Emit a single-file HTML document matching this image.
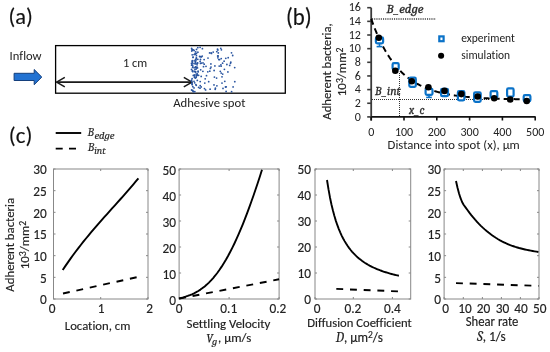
<!DOCTYPE html>
<html><head><meta charset="utf-8"><title>Figure</title>
<style>html,body{margin:0;padding:0;background:#fff;}svg{display:block;filter:blur(0.25px);}text{font-variant-ligatures:none;font-feature-settings:'liga' 0,'clig' 0;font-kerning:normal;}</style></head>
<body><svg width="550" height="352" viewBox="0 0 550 352">
<rect width="550" height="352" fill="#fff"/>
<text x="8.50" y="24.10" font-size="23" font-family="Carlito, 'Liberation Sans', sans-serif" fill="#111" stroke="#111" stroke-width="0.15" textLength="24.30" lengthAdjust="spacingAndGlyphs">(a)</text>
<text x="9.60" y="59.60" font-size="13" font-family="Carlito, 'Liberation Sans', sans-serif" fill="#222" textLength="32.00" lengthAdjust="spacingAndGlyphs">Inflow</text>
<path d="M14.1,73.3 H34.2 V69.5 L41.8,77.1 L34.2,84.7 V80.5 H14.1 Z" fill="#2272d2" stroke="#143f7c" stroke-width="1"/>
<rect x="55.6" y="45.6" width="229.7" height="47.6" fill="none" stroke="#000" stroke-width="1.3"/>
<line x1="56.50" y1="82.10" x2="192.30" y2="82.10" stroke="#1a1a1a" stroke-width="1.6"/>
<polyline points="64.80,77.30 56.60,82.10 64.80,86.90" fill="none" stroke="#1a1a1a" stroke-width="1.5" stroke-linejoin="round" stroke-linejoin="miter"/>
<polyline points="183.80,77.30 192.00,82.10 183.80,86.90" fill="none" stroke="#1a1a1a" stroke-width="1.5" stroke-linejoin="round" stroke-linejoin="miter"/>
<text x="123.00" y="67.30" font-size="13" font-family="Carlito, 'Liberation Sans', sans-serif" fill="#222" textLength="24.30" lengthAdjust="spacingAndGlyphs">1 cm</text>
<g fill="#2a55a0"><circle cx="192.8" cy="66.0" r="0.9"/><circle cx="196.1" cy="69.0" r="0.9"/><circle cx="198.6" cy="87.4" r="0.9"/><circle cx="196.8" cy="75.6" r="0.9"/><circle cx="191.5" cy="81.3" r="0.9"/><circle cx="200.1" cy="61.4" r="0.9"/><circle cx="192.1" cy="49.5" r="0.9"/><circle cx="196.3" cy="85.3" r="0.9"/><circle cx="194.8" cy="91.6" r="0.9"/><circle cx="192.1" cy="83.0" r="0.9"/><circle cx="192.2" cy="50.2" r="0.9"/><circle cx="194.0" cy="87.9" r="0.9"/><circle cx="194.1" cy="54.6" r="0.9"/><circle cx="193.2" cy="49.8" r="0.9"/><circle cx="191.6" cy="80.2" r="0.9"/><circle cx="197.2" cy="63.2" r="0.9"/><circle cx="196.3" cy="76.0" r="0.9"/><circle cx="197.3" cy="80.4" r="0.9"/><circle cx="197.5" cy="67.9" r="0.9"/><circle cx="194.0" cy="81.3" r="0.9"/><circle cx="193.0" cy="63.6" r="0.9"/><circle cx="192.2" cy="84.7" r="0.9"/><circle cx="196.4" cy="55.7" r="0.9"/><circle cx="195.6" cy="66.8" r="0.9"/><circle cx="192.2" cy="61.4" r="0.9"/><circle cx="192.3" cy="60.7" r="0.9"/><circle cx="195.4" cy="62.5" r="0.9"/><circle cx="198.6" cy="75.3" r="0.9"/><circle cx="192.3" cy="71.1" r="0.9"/><circle cx="196.0" cy="59.9" r="0.9"/><circle cx="195.0" cy="69.5" r="0.9"/><circle cx="195.6" cy="71.9" r="0.9"/><circle cx="200.0" cy="88.2" r="0.9"/><circle cx="196.4" cy="57.8" r="0.9"/><circle cx="194.5" cy="71.4" r="0.9"/><circle cx="192.6" cy="70.6" r="0.9"/><circle cx="195.5" cy="72.0" r="0.9"/><circle cx="196.5" cy="49.4" r="0.9"/><circle cx="193.5" cy="91.7" r="0.9"/><circle cx="193.1" cy="91.3" r="0.9"/><circle cx="201.3" cy="63.1" r="0.9"/><circle cx="191.5" cy="63.3" r="0.9"/><circle cx="195.9" cy="84.6" r="0.9"/><circle cx="191.9" cy="83.8" r="0.9"/><circle cx="192.7" cy="90.5" r="0.9"/><circle cx="194.7" cy="77.4" r="0.9"/><circle cx="192.8" cy="86.7" r="0.9"/><circle cx="195.4" cy="78.1" r="0.9"/><circle cx="196.1" cy="74.1" r="0.9"/><circle cx="196.5" cy="53.4" r="0.9"/><circle cx="193.0" cy="57.4" r="0.9"/><circle cx="197.4" cy="75.2" r="0.9"/><circle cx="193.1" cy="57.1" r="0.9"/><circle cx="196.0" cy="63.9" r="0.9"/><circle cx="197.0" cy="67.2" r="0.9"/><circle cx="191.6" cy="90.0" r="0.9"/><circle cx="197.2" cy="73.8" r="0.9"/><circle cx="196.3" cy="58.3" r="0.9"/><circle cx="197.7" cy="63.0" r="0.9"/><circle cx="192.8" cy="71.7" r="0.9"/><circle cx="191.5" cy="69.4" r="0.9"/><circle cx="192.2" cy="54.8" r="0.9"/><circle cx="192.4" cy="62.3" r="0.9"/><circle cx="195.7" cy="51.8" r="0.9"/><circle cx="195.6" cy="61.2" r="0.9"/><circle cx="200.2" cy="81.6" r="0.9"/><circle cx="199.6" cy="56.5" r="0.9"/><circle cx="191.6" cy="48.5" r="0.9"/><circle cx="196.2" cy="77.3" r="0.9"/><circle cx="194.4" cy="77.0" r="0.9"/><circle cx="191.8" cy="51.1" r="0.9"/><circle cx="191.6" cy="65.2" r="0.9"/><circle cx="195.5" cy="59.6" r="0.9"/><circle cx="195.8" cy="67.2" r="0.9"/><circle cx="197.8" cy="47.7" r="0.9"/><circle cx="194.5" cy="75.1" r="0.9"/><circle cx="197.1" cy="64.8" r="0.9"/><circle cx="197.8" cy="59.3" r="0.9"/><circle cx="193.3" cy="75.4" r="0.9"/><circle cx="198.1" cy="71.2" r="0.9"/><circle cx="200.7" cy="69.8" r="0.9"/><circle cx="194.1" cy="50.5" r="0.9"/><circle cx="196.6" cy="67.8" r="0.9"/><circle cx="192.1" cy="78.7" r="0.9"/><circle cx="200.2" cy="85.7" r="0.9"/><circle cx="194.7" cy="82.8" r="0.9"/><circle cx="201.4" cy="56.9" r="0.9"/><circle cx="198.1" cy="71.9" r="0.9"/><circle cx="192.6" cy="67.4" r="0.9"/><circle cx="197.9" cy="52.2" r="0.9"/><circle cx="195.1" cy="53.3" r="0.9"/><circle cx="194.5" cy="75.2" r="0.9"/><circle cx="202.4" cy="48.7" r="0.9"/><circle cx="194.2" cy="60.8" r="0.9"/><circle cx="192.0" cy="64.9" r="0.9"/><circle cx="195.4" cy="54.2" r="0.9"/><circle cx="200.5" cy="56.7" r="0.9"/><circle cx="197.3" cy="74.6" r="0.9"/><circle cx="194.1" cy="67.7" r="0.9"/><circle cx="194.9" cy="63.7" r="0.9"/><circle cx="204.1" cy="59.6" r="0.9"/><circle cx="200.5" cy="63.4" r="0.9"/><circle cx="214.0" cy="84.9" r="0.9"/><circle cx="205.2" cy="78.8" r="0.9"/><circle cx="216.6" cy="78.1" r="0.9"/><circle cx="221.2" cy="73.1" r="0.9"/><circle cx="209.8" cy="71.2" r="0.9"/><circle cx="200.1" cy="47.3" r="0.9"/><circle cx="210.9" cy="63.9" r="0.9"/><circle cx="203.0" cy="62.9" r="0.9"/><circle cx="214.1" cy="70.5" r="0.9"/><circle cx="208.7" cy="81.7" r="0.9"/><circle cx="201.2" cy="86.9" r="0.9"/><circle cx="214.9" cy="65.9" r="0.9"/><circle cx="215.2" cy="89.3" r="0.9"/><circle cx="214.4" cy="77.1" r="0.9"/><circle cx="215.4" cy="88.2" r="0.9"/><circle cx="219.6" cy="59.6" r="0.9"/><circle cx="200.5" cy="59.5" r="0.9"/><circle cx="208.0" cy="58.1" r="0.9"/><circle cx="210.1" cy="89.2" r="0.9"/><circle cx="204.2" cy="64.2" r="0.9"/><circle cx="218.3" cy="52.9" r="0.9"/><circle cx="207.8" cy="71.8" r="0.9"/><circle cx="216.9" cy="85.8" r="0.9"/><circle cx="205.6" cy="89.9" r="0.9"/><circle cx="209.6" cy="52.9" r="0.9"/><circle cx="203.5" cy="66.7" r="0.9"/><circle cx="217.9" cy="50.1" r="0.9"/><circle cx="204.8" cy="83.1" r="0.9"/><circle cx="218.1" cy="56.0" r="0.9"/><circle cx="201.2" cy="76.4" r="0.9"/><circle cx="217.5" cy="49.2" r="0.9"/><circle cx="211.5" cy="53.4" r="0.9"/><circle cx="213.2" cy="52.1" r="0.9"/><circle cx="202.9" cy="71.3" r="0.9"/><circle cx="220.8" cy="48.3" r="0.9"/><circle cx="202.2" cy="56.1" r="0.9"/><circle cx="217.9" cy="57.8" r="0.9"/><circle cx="206.0" cy="66.3" r="0.9"/><circle cx="218.8" cy="59.6" r="0.9"/><circle cx="210.4" cy="68.4" r="0.9"/><circle cx="211.0" cy="67.1" r="0.9"/><circle cx="217.7" cy="56.0" r="0.9"/><circle cx="211.1" cy="52.9" r="0.9"/><circle cx="219.2" cy="66.1" r="0.9"/><circle cx="222.0" cy="76.8" r="0.9"/><circle cx="204.5" cy="88.6" r="0.9"/><circle cx="206.5" cy="75.7" r="0.9"/><circle cx="216.8" cy="51.6" r="0.9"/><circle cx="221.1" cy="66.2" r="0.9"/><circle cx="224.1" cy="61.2" r="0.9"/><circle cx="222.6" cy="63.2" r="0.9"/><circle cx="234.7" cy="67.6" r="0.9"/><circle cx="225.8" cy="58.3" r="0.9"/><circle cx="221.2" cy="58.6" r="0.9"/><circle cx="233.1" cy="86.9" r="0.9"/><circle cx="220.9" cy="64.8" r="0.9"/><circle cx="227.9" cy="71.9" r="0.9"/><circle cx="221.4" cy="49.8" r="0.9"/><circle cx="231.5" cy="52.8" r="0.9"/><circle cx="224.8" cy="81.3" r="0.9"/><circle cx="229.7" cy="65.4" r="0.9"/><circle cx="231.6" cy="91.7" r="0.9"/><circle cx="226.2" cy="86.8" r="0.9"/><circle cx="226.9" cy="64.5" r="0.9"/><circle cx="234.8" cy="81.7" r="0.9"/><circle cx="220.3" cy="71.3" r="0.9"/><circle cx="224.4" cy="69.3" r="0.9"/><circle cx="230.8" cy="62.2" r="0.9"/><circle cx="228.2" cy="57.7" r="0.9"/><circle cx="225.5" cy="87.0" r="0.9"/><circle cx="230.5" cy="63.3" r="0.9"/><circle cx="222.7" cy="74.1" r="0.9"/><circle cx="226.1" cy="91.4" r="0.9"/><circle cx="223.0" cy="88.4" r="0.9"/><circle cx="222.0" cy="83.1" r="0.9"/><circle cx="232.7" cy="55.5" r="0.9"/></g>
<text x="173.20" y="106.80" font-size="12.7" font-family="Carlito, 'Liberation Sans', sans-serif" fill="#222" textLength="72.20" lengthAdjust="spacingAndGlyphs">Adhesive spot</text>
<text x="285.90" y="24.50" font-size="23.5" font-family="Carlito, 'Liberation Sans', sans-serif" fill="#111" stroke="#111" stroke-width="0.15" textLength="25.80" lengthAdjust="spacingAndGlyphs">(b)</text>
<line x1="372.00" y1="19.00" x2="436.00" y2="19.00" stroke="#3a3a3a" stroke-width="1.3" stroke-dasharray="1.1 1.1"/>
<line x1="372.00" y1="99.50" x2="490.00" y2="99.50" stroke="#333" stroke-width="1" stroke-dasharray="1 1"/>
<line x1="399.50" y1="73.00" x2="399.50" y2="116.00" stroke="#333" stroke-width="1" stroke-dasharray="1 1"/>
<text x="386.40" y="13.40" font-size="12.8" font-family="Caladea, 'Liberation Serif', serif" fill="#2a2a2a" stroke="#2a2a2a" stroke-width="0.3" font-style="italic" textLength="37.00" lengthAdjust="spacingAndGlyphs">B_edge</text>
<text x="375.00" y="94.90" font-size="12.8" font-family="Caladea, 'Liberation Serif', serif" fill="#2a2a2a" stroke="#2a2a2a" stroke-width="0.3" font-style="italic" textLength="25.60" lengthAdjust="spacingAndGlyphs">B_int</text>
<text x="408.90" y="113.50" font-size="12.8" font-family="Caladea, 'Liberation Serif', serif" fill="#2a2a2a" stroke="#2a2a2a" stroke-width="0.3" font-style="italic" textLength="15.60" lengthAdjust="spacingAndGlyphs">x_c</text>
<line x1="371.20" y1="7.70" x2="371.20" y2="120.50" stroke="#3a3a3a" stroke-width="1.8"/>
<line x1="371.20" y1="116.90" x2="535.70" y2="116.90" stroke="#111" stroke-width="1.8"/>
<line x1="367.20" y1="116.90" x2="371.20" y2="116.90" stroke="#3a3a3a" stroke-width="1.6"/>
<text x="360.80" y="120.60" font-size="12" font-family="Carlito, 'Liberation Sans', sans-serif" fill="#222" text-anchor="end">0</text>
<line x1="367.20" y1="103.25" x2="371.20" y2="103.25" stroke="#3a3a3a" stroke-width="1.6"/>
<text x="360.80" y="106.95" font-size="12" font-family="Carlito, 'Liberation Sans', sans-serif" fill="#222" text-anchor="end">2</text>
<line x1="367.20" y1="89.60" x2="371.20" y2="89.60" stroke="#3a3a3a" stroke-width="1.6"/>
<text x="360.80" y="93.30" font-size="12" font-family="Carlito, 'Liberation Sans', sans-serif" fill="#222" text-anchor="end">4</text>
<line x1="367.20" y1="75.95" x2="371.20" y2="75.95" stroke="#3a3a3a" stroke-width="1.6"/>
<text x="360.80" y="79.65" font-size="12" font-family="Carlito, 'Liberation Sans', sans-serif" fill="#222" text-anchor="end">6</text>
<line x1="367.20" y1="62.30" x2="371.20" y2="62.30" stroke="#3a3a3a" stroke-width="1.6"/>
<text x="360.80" y="66.00" font-size="12" font-family="Carlito, 'Liberation Sans', sans-serif" fill="#222" text-anchor="end">8</text>
<line x1="367.20" y1="48.65" x2="371.20" y2="48.65" stroke="#3a3a3a" stroke-width="1.6"/>
<text x="360.80" y="52.35" font-size="12" font-family="Carlito, 'Liberation Sans', sans-serif" fill="#222" text-anchor="end">10</text>
<line x1="367.20" y1="35.00" x2="371.20" y2="35.00" stroke="#3a3a3a" stroke-width="1.6"/>
<text x="360.80" y="38.70" font-size="12" font-family="Carlito, 'Liberation Sans', sans-serif" fill="#222" text-anchor="end">12</text>
<line x1="367.20" y1="21.35" x2="371.20" y2="21.35" stroke="#3a3a3a" stroke-width="1.6"/>
<text x="360.80" y="25.05" font-size="12" font-family="Carlito, 'Liberation Sans', sans-serif" fill="#222" text-anchor="end">14</text>
<line x1="367.20" y1="7.70" x2="371.20" y2="7.70" stroke="#3a3a3a" stroke-width="1.6"/>
<text x="360.80" y="11.40" font-size="12" font-family="Carlito, 'Liberation Sans', sans-serif" fill="#222" text-anchor="end">16</text>
<line x1="371.20" y1="116.90" x2="371.20" y2="120.50" stroke="#111" stroke-width="1.6"/>
<text x="371.20" y="136.00" font-size="12" font-family="Carlito, 'Liberation Sans', sans-serif" fill="#222" text-anchor="middle">0</text>
<line x1="404.00" y1="116.90" x2="404.00" y2="120.50" stroke="#111" stroke-width="1.6"/>
<text x="404.00" y="136.00" font-size="12" font-family="Carlito, 'Liberation Sans', sans-serif" fill="#222" text-anchor="middle">100</text>
<line x1="436.80" y1="116.90" x2="436.80" y2="120.50" stroke="#111" stroke-width="1.6"/>
<text x="436.80" y="136.00" font-size="12" font-family="Carlito, 'Liberation Sans', sans-serif" fill="#222" text-anchor="middle">200</text>
<line x1="469.60" y1="116.90" x2="469.60" y2="120.50" stroke="#111" stroke-width="1.6"/>
<text x="469.60" y="136.00" font-size="12" font-family="Carlito, 'Liberation Sans', sans-serif" fill="#222" text-anchor="middle">300</text>
<line x1="502.40" y1="116.90" x2="502.40" y2="120.50" stroke="#111" stroke-width="1.6"/>
<text x="502.40" y="136.00" font-size="12" font-family="Carlito, 'Liberation Sans', sans-serif" fill="#222" text-anchor="middle">400</text>
<line x1="535.20" y1="116.90" x2="535.20" y2="120.50" stroke="#111" stroke-width="1.6"/>
<text x="535.20" y="136.00" font-size="12" font-family="Carlito, 'Liberation Sans', sans-serif" fill="#222" text-anchor="middle">500</text>
<text x="387.60" y="148.80" font-size="12.85" font-family="Carlito, 'Liberation Sans', sans-serif" fill="#222" textLength="132.20" lengthAdjust="spacingAndGlyphs">Distance into spot (x), µm</text>
<text x="69.50" y="0.00" font-size="1" font-family="Carlito, 'Liberation Sans', sans-serif" fill="#222"></text>
<text transform="translate(331.2 71.45) rotate(-90)" text-anchor="middle" font-size="12.9" font-family="Carlito, 'Liberation Sans', sans-serif" fill="#222" stroke="#222" stroke-width="0.15" textLength="96.5" lengthAdjust="spacingAndGlyphs">Adherent bacteria,</text>
<text transform="translate(345.9 71.9) rotate(-90)" text-anchor="middle" font-size="12.9" font-family="Carlito, 'Liberation Sans', sans-serif" fill="#222" stroke="#222" stroke-width="0.15">10<tspan font-size="9.8" dy="-3.3">3</tspan><tspan dy="3.3">/mm</tspan><tspan font-size="9.8" dy="-3.3">2</tspan></text>
<polyline points="371.20,18.89 372.52,22.59 373.85,26.12 375.17,29.49 376.49,32.70 377.82,35.77 379.14,38.70 380.46,41.49 381.78,44.15 383.11,46.70 384.43,49.12 385.75,51.44 387.08,53.64 388.40,55.75 389.72,57.76 391.05,59.68 392.37,61.51 393.69,63.26 395.01,64.92 396.34,66.51 397.66,68.03 398.98,69.48 400.31,70.86 401.63,72.18 402.95,73.44 404.28,74.64 405.60,75.78 406.92,76.88 408.24,77.92 409.57,78.91 410.89,79.86 412.21,80.77 413.54,81.63 414.86,82.46 416.18,83.24 417.51,84.00 418.83,84.71 420.15,85.40 421.47,86.05 422.80,86.67 424.12,87.26 425.44,87.83 426.77,88.37 428.09,88.89 429.41,89.38 430.74,89.85 432.06,90.30 433.38,90.73 434.71,91.13 436.03,91.52 437.35,91.90 438.67,92.25 440.00,92.59 441.32,92.91 442.64,93.22 443.97,93.51 445.29,93.79 446.61,94.06 447.94,94.32 449.26,94.56 450.58,94.79 451.90,95.01 453.23,95.23 454.55,95.43 455.87,95.62 457.20,95.80 458.52,95.98 459.84,96.15 461.17,96.31 462.49,96.46 463.81,96.60 465.13,96.74 466.46,96.88 467.78,97.00 469.10,97.12 470.43,97.24 471.75,97.35 473.07,97.45 474.40,97.55 475.72,97.65 477.04,97.74 478.37,97.82 479.69,97.91 481.01,97.99 482.33,98.06 483.66,98.13 484.98,98.20 486.30,98.27 487.63,98.33 488.95,98.39 490.27,98.45 491.60,98.50 492.92,98.55 494.24,98.60 495.56,98.65 496.89,98.70 498.21,98.74 499.53,98.78 500.86,98.82 502.18,98.86 503.50,98.89 504.83,98.93 506.15,98.96 507.47,98.99 508.79,99.02 510.12,99.05 511.44,99.07 512.76,99.10 514.09,99.12 515.41,99.15 516.73,99.17 518.06,99.19 519.38,99.21 520.70,99.23 522.02,99.25 523.35,99.27 524.67,99.28 525.99,99.30 527.32,99.31 528.64,99.33" fill="none" stroke="#000" stroke-width="2.0" stroke-linejoin="round" stroke-dasharray="6 4"/>
<line x1="379.50" y1="44.00" x2="379.50" y2="46.60" stroke="#0a72c8" stroke-width="1.6"/>
<line x1="376.60" y1="46.60" x2="382.40" y2="46.60" stroke="#0a72c8" stroke-width="1.6"/>
<line x1="429.00" y1="95.50" x2="429.00" y2="97.40" stroke="#0a72c8" stroke-width="1.6"/>
<line x1="426.20" y1="97.40" x2="431.80" y2="97.40" stroke="#0a72c8" stroke-width="1.6"/>
<rect x="375.90" y="37.40" width="7.20" height="5.90" rx="1.3" fill="#fff" stroke="#0a72c8" stroke-width="2.2"/>
<rect x="392.60" y="63.20" width="6.10" height="6.30" rx="1.3" fill="#fff" stroke="#0a72c8" stroke-width="2.2"/>
<rect x="409.30" y="77.70" width="6.50" height="9.20" rx="1.3" fill="#fff" stroke="#0a72c8" stroke-width="2.2"/>
<rect x="425.60" y="88.80" width="6.90" height="6.00" rx="1.3" fill="#fff" stroke="#0a72c8" stroke-width="2.2"/>
<rect x="441.10" y="88.80" width="6.90" height="7.40" rx="1.3" fill="#fff" stroke="#0a72c8" stroke-width="2.2"/>
<rect x="457.90" y="91.10" width="6.50" height="9.20" rx="1.3" fill="#fff" stroke="#0a72c8" stroke-width="2.2"/>
<rect x="474.10" y="92.30" width="6.60" height="9.60" rx="1.3" fill="#fff" stroke="#0a72c8" stroke-width="2.2"/>
<rect x="490.60" y="91.10" width="6.70" height="6.70" rx="1.3" fill="#fff" stroke="#0a72c8" stroke-width="2.2"/>
<rect x="507.10" y="88.40" width="6.50" height="8.20" rx="1.3" fill="#fff" stroke="#0a72c8" stroke-width="2.2"/>
<rect x="523.70" y="95.10" width="6.70" height="6.30" rx="1.3" fill="#fff" stroke="#0a72c8" stroke-width="2.2"/>
<circle cx="378.80" cy="37.70" r="3.3" fill="#000"/>
<circle cx="395.30" cy="70.70" r="3.3" fill="#000"/>
<circle cx="411.80" cy="81.20" r="3.3" fill="#000"/>
<circle cx="428.40" cy="87.30" r="3.3" fill="#000"/>
<circle cx="444.50" cy="90.90" r="3.3" fill="#000"/>
<circle cx="461.40" cy="94.10" r="3.3" fill="#000"/>
<circle cx="477.70" cy="96.50" r="3.3" fill="#000"/>
<circle cx="494.20" cy="98.30" r="3.3" fill="#000"/>
<circle cx="510.20" cy="99.50" r="3.3" fill="#000"/>
<circle cx="526.70" cy="101.00" r="3.3" fill="#000"/>
<rect x="439.30" y="36.40" width="4.3" height="4.8" fill="#fff" stroke="#0a72c8" stroke-width="2.2"/>
<circle cx="441.1" cy="55.8" r="3.05" fill="#000"/>
<text x="461.30" y="42.30" font-size="11.6" font-family="Carlito, 'Liberation Sans', sans-serif" fill="#222" textLength="53.60" lengthAdjust="spacingAndGlyphs">experiment</text>
<text x="461.30" y="59.20" font-size="11.6" font-family="Carlito, 'Liberation Sans', sans-serif" fill="#222" textLength="48.80" lengthAdjust="spacingAndGlyphs">simulation</text>
<text x="8.80" y="142.90" font-size="23" font-family="Carlito, 'Liberation Sans', sans-serif" fill="#111" stroke="#111" stroke-width="0.15" textLength="23.60" lengthAdjust="spacingAndGlyphs">(c)</text>
<line x1="55.70" y1="133.00" x2="81.20" y2="133.00" stroke="#000" stroke-width="1.9"/>
<line x1="55.70" y1="148.60" x2="81.20" y2="148.60" stroke="#000" stroke-width="1.9" stroke-dasharray="7 6.3"/>
<text x="87.60" y="136.10" font-size="12" font-family="Caladea, 'Liberation Serif', serif" fill="#2a2a2a" stroke="#2a2a2a" stroke-width="0.15" font-style="italic">B</text>
<text x="94.40" y="138.50" font-size="10" font-family="Caladea, 'Liberation Serif', serif" fill="#2a2a2a" stroke="#2a2a2a" stroke-width="0.15" font-style="italic" textLength="20.20" lengthAdjust="spacingAndGlyphs">edge</text>
<text x="87.70" y="151.20" font-size="12" font-family="Caladea, 'Liberation Serif', serif" fill="#2a2a2a" stroke="#2a2a2a" stroke-width="0.15" font-style="italic">B</text>
<text x="94.20" y="153.80" font-size="10" font-family="Caladea, 'Liberation Serif', serif" fill="#2a2a2a" stroke="#2a2a2a" stroke-width="0.15" font-style="italic" textLength="11.60" lengthAdjust="spacingAndGlyphs">int</text>
<rect x="53.50" y="169.00" width="94.50" height="130.00" fill="none" stroke="#888" stroke-width="1"/>
<line x1="53.50" y1="299.00" x2="55.50" y2="299.00" stroke="#888" stroke-width="1"/>
<line x1="146.00" y1="299.00" x2="148.00" y2="299.00" stroke="#888" stroke-width="1"/>
<text x="46.80" y="304.35" font-size="13.3" font-family="Carlito, 'Liberation Sans', sans-serif" fill="#222" stroke="#222" stroke-width="0.15" text-anchor="end">0</text>
<line x1="53.50" y1="277.33" x2="55.50" y2="277.33" stroke="#888" stroke-width="1"/>
<line x1="146.00" y1="277.33" x2="148.00" y2="277.33" stroke="#888" stroke-width="1"/>
<text x="46.80" y="282.68" font-size="13.3" font-family="Carlito, 'Liberation Sans', sans-serif" fill="#222" stroke="#222" stroke-width="0.15" text-anchor="end">5</text>
<line x1="53.50" y1="255.67" x2="55.50" y2="255.67" stroke="#888" stroke-width="1"/>
<line x1="146.00" y1="255.67" x2="148.00" y2="255.67" stroke="#888" stroke-width="1"/>
<text x="46.80" y="261.02" font-size="13.3" font-family="Carlito, 'Liberation Sans', sans-serif" fill="#222" stroke="#222" stroke-width="0.15" text-anchor="end">10</text>
<line x1="53.50" y1="234.00" x2="55.50" y2="234.00" stroke="#888" stroke-width="1"/>
<line x1="146.00" y1="234.00" x2="148.00" y2="234.00" stroke="#888" stroke-width="1"/>
<text x="46.80" y="239.35" font-size="13.3" font-family="Carlito, 'Liberation Sans', sans-serif" fill="#222" stroke="#222" stroke-width="0.15" text-anchor="end">15</text>
<line x1="53.50" y1="212.33" x2="55.50" y2="212.33" stroke="#888" stroke-width="1"/>
<line x1="146.00" y1="212.33" x2="148.00" y2="212.33" stroke="#888" stroke-width="1"/>
<text x="46.80" y="217.68" font-size="13.3" font-family="Carlito, 'Liberation Sans', sans-serif" fill="#222" stroke="#222" stroke-width="0.15" text-anchor="end">20</text>
<line x1="53.50" y1="190.67" x2="55.50" y2="190.67" stroke="#888" stroke-width="1"/>
<line x1="146.00" y1="190.67" x2="148.00" y2="190.67" stroke="#888" stroke-width="1"/>
<text x="46.80" y="196.02" font-size="13.3" font-family="Carlito, 'Liberation Sans', sans-serif" fill="#222" stroke="#222" stroke-width="0.15" text-anchor="end">25</text>
<line x1="53.50" y1="169.00" x2="55.50" y2="169.00" stroke="#888" stroke-width="1"/>
<line x1="146.00" y1="169.00" x2="148.00" y2="169.00" stroke="#888" stroke-width="1"/>
<text x="46.80" y="174.35" font-size="13.3" font-family="Carlito, 'Liberation Sans', sans-serif" fill="#222" stroke="#222" stroke-width="0.15" text-anchor="end">30</text>
<line x1="53.50" y1="299.00" x2="53.50" y2="297.00" stroke="#888" stroke-width="1"/>
<line x1="53.50" y1="169.00" x2="53.50" y2="171.00" stroke="#888" stroke-width="1"/>
<text x="52.00" y="312.50" font-size="13.3" font-family="Carlito, 'Liberation Sans', sans-serif" fill="#222" stroke="#222" stroke-width="0.15" text-anchor="middle">0</text>
<line x1="100.70" y1="299.00" x2="100.70" y2="297.00" stroke="#888" stroke-width="1"/>
<line x1="100.70" y1="169.00" x2="100.70" y2="171.00" stroke="#888" stroke-width="1"/>
<text x="101.20" y="312.50" font-size="13.3" font-family="Carlito, 'Liberation Sans', sans-serif" fill="#222" stroke="#222" stroke-width="0.15" text-anchor="middle">1</text>
<line x1="148.00" y1="299.00" x2="148.00" y2="297.00" stroke="#888" stroke-width="1"/>
<line x1="148.00" y1="169.00" x2="148.00" y2="171.00" stroke="#888" stroke-width="1"/>
<text x="149.50" y="312.50" font-size="13.3" font-family="Carlito, 'Liberation Sans', sans-serif" fill="#222" stroke="#222" stroke-width="0.15" text-anchor="middle">2</text>
<polyline points="62.70,270.03 65.31,266.14 67.92,262.35 70.53,258.66 73.14,255.06 75.75,251.54 78.36,248.11 80.97,244.75 83.58,241.46 86.19,238.24 88.80,235.07 91.41,231.96 94.02,228.89 96.63,225.86 99.24,222.87 101.86,219.90 104.47,216.96 107.08,214.04 109.69,211.13 112.30,208.23 114.91,205.33 117.52,202.42 120.13,199.50 122.74,196.57 125.35,193.62 127.96,190.63 130.57,187.62 133.18,184.56 135.79,181.46 138.40,178.31" fill="none" stroke="#000" stroke-width="1.9" stroke-linejoin="round"/>
<polyline points="63.00,293.50 138.40,276.90" fill="none" stroke="#000" stroke-width="1.9" stroke-linejoin="round" stroke-dasharray="6.9 6.8"/>
<rect x="179.10" y="169.00" width="100.00" height="130.00" fill="none" stroke="#888" stroke-width="1"/>
<line x1="179.10" y1="299.00" x2="181.10" y2="299.00" stroke="#888" stroke-width="1"/>
<line x1="277.10" y1="299.00" x2="279.10" y2="299.00" stroke="#888" stroke-width="1"/>
<text x="176.10" y="304.75" font-size="13.3" font-family="Carlito, 'Liberation Sans', sans-serif" fill="#222" stroke="#222" stroke-width="0.15" text-anchor="end">0</text>
<line x1="179.10" y1="273.00" x2="181.10" y2="273.00" stroke="#888" stroke-width="1"/>
<line x1="277.10" y1="273.00" x2="279.10" y2="273.00" stroke="#888" stroke-width="1"/>
<text x="176.10" y="278.75" font-size="13.3" font-family="Carlito, 'Liberation Sans', sans-serif" fill="#222" stroke="#222" stroke-width="0.15" text-anchor="end">10</text>
<line x1="179.10" y1="247.00" x2="181.10" y2="247.00" stroke="#888" stroke-width="1"/>
<line x1="277.10" y1="247.00" x2="279.10" y2="247.00" stroke="#888" stroke-width="1"/>
<text x="176.10" y="252.75" font-size="13.3" font-family="Carlito, 'Liberation Sans', sans-serif" fill="#222" stroke="#222" stroke-width="0.15" text-anchor="end">20</text>
<line x1="179.10" y1="221.00" x2="181.10" y2="221.00" stroke="#888" stroke-width="1"/>
<line x1="277.10" y1="221.00" x2="279.10" y2="221.00" stroke="#888" stroke-width="1"/>
<text x="176.10" y="226.75" font-size="13.3" font-family="Carlito, 'Liberation Sans', sans-serif" fill="#222" stroke="#222" stroke-width="0.15" text-anchor="end">30</text>
<line x1="179.10" y1="195.00" x2="181.10" y2="195.00" stroke="#888" stroke-width="1"/>
<line x1="277.10" y1="195.00" x2="279.10" y2="195.00" stroke="#888" stroke-width="1"/>
<text x="176.10" y="200.75" font-size="13.3" font-family="Carlito, 'Liberation Sans', sans-serif" fill="#222" stroke="#222" stroke-width="0.15" text-anchor="end">40</text>
<line x1="179.10" y1="169.00" x2="181.10" y2="169.00" stroke="#888" stroke-width="1"/>
<line x1="277.10" y1="169.00" x2="279.10" y2="169.00" stroke="#888" stroke-width="1"/>
<text x="176.10" y="174.75" font-size="13.3" font-family="Carlito, 'Liberation Sans', sans-serif" fill="#222" stroke="#222" stroke-width="0.15" text-anchor="end">50</text>
<line x1="179.10" y1="299.00" x2="179.10" y2="297.00" stroke="#888" stroke-width="1"/>
<line x1="179.10" y1="169.00" x2="179.10" y2="171.00" stroke="#888" stroke-width="1"/>
<text x="179.10" y="312.50" font-size="13.3" font-family="Carlito, 'Liberation Sans', sans-serif" fill="#222" stroke="#222" stroke-width="0.15" text-anchor="middle">0</text>
<line x1="229.10" y1="299.00" x2="229.10" y2="297.00" stroke="#888" stroke-width="1"/>
<line x1="229.10" y1="169.00" x2="229.10" y2="171.00" stroke="#888" stroke-width="1"/>
<text x="228.75" y="312.50" font-size="13.3" font-family="Carlito, 'Liberation Sans', sans-serif" fill="#222" stroke="#222" stroke-width="0.15" text-anchor="middle">0.1</text>
<line x1="279.10" y1="299.00" x2="279.10" y2="297.00" stroke="#888" stroke-width="1"/>
<line x1="279.10" y1="169.00" x2="279.10" y2="171.00" stroke="#888" stroke-width="1"/>
<text x="277.95" y="312.50" font-size="13.3" font-family="Carlito, 'Liberation Sans', sans-serif" fill="#222" stroke="#222" stroke-width="0.15" text-anchor="middle">0.2</text>
<polyline points="179.20,298.45 181.32,297.89 183.45,297.30 185.57,296.66 187.69,295.95 189.82,295.16 191.94,294.28 194.06,293.29 196.18,292.19 198.31,290.96 200.43,289.59 202.55,288.08 204.68,286.41 206.80,284.58 208.92,282.58 211.05,280.40 213.17,278.03 215.29,275.48 217.42,272.74 219.54,269.80 221.66,266.65 223.78,263.31 225.91,259.76 228.03,256.01 230.15,252.05 232.28,247.88 234.40,243.51 236.52,238.94 238.65,234.16 240.77,229.19 242.89,224.03 245.02,218.68 247.14,213.14 249.26,207.43 251.38,201.55 253.51,195.50 255.63,189.29 257.75,182.94 259.88,176.45 262.00,169.83" fill="none" stroke="#000" stroke-width="1.9" stroke-linejoin="round"/>
<polyline points="179.10,298.60 279.10,279.30" fill="none" stroke="#000" stroke-width="1.9" stroke-linejoin="round" stroke-dasharray="6.9 6.8"/>
<rect x="315.00" y="169.00" width="95.70" height="130.00" fill="none" stroke="#888" stroke-width="1"/>
<line x1="315.00" y1="299.00" x2="317.00" y2="299.00" stroke="#888" stroke-width="1"/>
<line x1="408.70" y1="299.00" x2="410.70" y2="299.00" stroke="#888" stroke-width="1"/>
<text x="310.90" y="304.35" font-size="13.3" font-family="Carlito, 'Liberation Sans', sans-serif" fill="#222" stroke="#222" stroke-width="0.15" text-anchor="end">0</text>
<line x1="315.00" y1="273.00" x2="317.00" y2="273.00" stroke="#888" stroke-width="1"/>
<line x1="408.70" y1="273.00" x2="410.70" y2="273.00" stroke="#888" stroke-width="1"/>
<text x="310.90" y="278.35" font-size="13.3" font-family="Carlito, 'Liberation Sans', sans-serif" fill="#222" stroke="#222" stroke-width="0.15" text-anchor="end">10</text>
<line x1="315.00" y1="247.00" x2="317.00" y2="247.00" stroke="#888" stroke-width="1"/>
<line x1="408.70" y1="247.00" x2="410.70" y2="247.00" stroke="#888" stroke-width="1"/>
<text x="310.90" y="252.35" font-size="13.3" font-family="Carlito, 'Liberation Sans', sans-serif" fill="#222" stroke="#222" stroke-width="0.15" text-anchor="end">20</text>
<line x1="315.00" y1="221.00" x2="317.00" y2="221.00" stroke="#888" stroke-width="1"/>
<line x1="408.70" y1="221.00" x2="410.70" y2="221.00" stroke="#888" stroke-width="1"/>
<text x="310.90" y="226.35" font-size="13.3" font-family="Carlito, 'Liberation Sans', sans-serif" fill="#222" stroke="#222" stroke-width="0.15" text-anchor="end">30</text>
<line x1="315.00" y1="195.00" x2="317.00" y2="195.00" stroke="#888" stroke-width="1"/>
<line x1="408.70" y1="195.00" x2="410.70" y2="195.00" stroke="#888" stroke-width="1"/>
<text x="310.90" y="200.35" font-size="13.3" font-family="Carlito, 'Liberation Sans', sans-serif" fill="#222" stroke="#222" stroke-width="0.15" text-anchor="end">40</text>
<line x1="315.00" y1="169.00" x2="317.00" y2="169.00" stroke="#888" stroke-width="1"/>
<line x1="408.70" y1="169.00" x2="410.70" y2="169.00" stroke="#888" stroke-width="1"/>
<text x="310.90" y="174.35" font-size="13.3" font-family="Carlito, 'Liberation Sans', sans-serif" fill="#222" stroke="#222" stroke-width="0.15" text-anchor="end">50</text>
<line x1="315.00" y1="299.00" x2="315.00" y2="297.00" stroke="#888" stroke-width="1"/>
<line x1="315.00" y1="169.00" x2="315.00" y2="171.00" stroke="#888" stroke-width="1"/>
<text x="317.10" y="312.50" font-size="13.3" font-family="Carlito, 'Liberation Sans', sans-serif" fill="#222" stroke="#222" stroke-width="0.15" text-anchor="middle">0</text>
<line x1="353.30" y1="299.00" x2="353.30" y2="297.00" stroke="#888" stroke-width="1"/>
<line x1="353.30" y1="169.00" x2="353.30" y2="171.00" stroke="#888" stroke-width="1"/>
<text x="352.95" y="312.50" font-size="13.3" font-family="Carlito, 'Liberation Sans', sans-serif" fill="#222" stroke="#222" stroke-width="0.15" text-anchor="middle">0.2</text>
<line x1="392.40" y1="299.00" x2="392.40" y2="297.00" stroke="#888" stroke-width="1"/>
<line x1="392.40" y1="169.00" x2="392.40" y2="171.00" stroke="#888" stroke-width="1"/>
<text x="392.45" y="312.50" font-size="13.3" font-family="Carlito, 'Liberation Sans', sans-serif" fill="#222" stroke="#222" stroke-width="0.15" text-anchor="middle">0.4</text>
<polyline points="327.00,179.98 328.47,189.20 329.93,197.20 331.40,204.18 332.87,210.33 334.34,215.77 335.80,220.61 337.27,224.94 338.74,228.84 340.21,232.36 341.67,235.56 343.14,238.47 344.61,241.12 346.08,243.56 347.54,245.79 349.01,247.86 350.48,249.76 351.94,251.53 353.41,253.17 354.88,254.69 356.35,256.11 357.81,257.44 359.28,258.69 360.75,259.85 362.22,260.95 363.68,261.98 365.15,262.95 366.62,263.86 368.09,264.73 369.55,265.55 371.02,266.32 372.49,267.06 373.96,267.75 375.42,268.41 376.89,269.04 378.36,269.64 379.82,270.22 381.29,270.76 382.76,271.28 384.23,271.78 385.69,272.25 387.16,272.71 388.63,273.15 390.10,273.56 391.56,273.97 393.03,274.35 394.50,274.72 395.97,275.08 397.43,275.42 398.90,275.75" fill="none" stroke="#000" stroke-width="1.9" stroke-linejoin="round"/>
<polyline points="336.30,288.90 398.90,291.40" fill="none" stroke="#000" stroke-width="1.9" stroke-linejoin="round" stroke-dasharray="6.9 6.8"/>
<rect x="444.10" y="169.00" width="94.90" height="130.00" fill="none" stroke="#888" stroke-width="1"/>
<line x1="444.10" y1="299.00" x2="446.10" y2="299.00" stroke="#888" stroke-width="1"/>
<line x1="537.00" y1="299.00" x2="539.00" y2="299.00" stroke="#888" stroke-width="1"/>
<text x="441.10" y="304.35" font-size="13.3" font-family="Carlito, 'Liberation Sans', sans-serif" fill="#222" stroke="#222" stroke-width="0.15" text-anchor="end">0</text>
<line x1="444.10" y1="277.33" x2="446.10" y2="277.33" stroke="#888" stroke-width="1"/>
<line x1="537.00" y1="277.33" x2="539.00" y2="277.33" stroke="#888" stroke-width="1"/>
<text x="441.10" y="282.68" font-size="13.3" font-family="Carlito, 'Liberation Sans', sans-serif" fill="#222" stroke="#222" stroke-width="0.15" text-anchor="end">5</text>
<line x1="444.10" y1="255.67" x2="446.10" y2="255.67" stroke="#888" stroke-width="1"/>
<line x1="537.00" y1="255.67" x2="539.00" y2="255.67" stroke="#888" stroke-width="1"/>
<text x="441.10" y="261.02" font-size="13.3" font-family="Carlito, 'Liberation Sans', sans-serif" fill="#222" stroke="#222" stroke-width="0.15" text-anchor="end">10</text>
<line x1="444.10" y1="234.00" x2="446.10" y2="234.00" stroke="#888" stroke-width="1"/>
<line x1="537.00" y1="234.00" x2="539.00" y2="234.00" stroke="#888" stroke-width="1"/>
<text x="441.10" y="239.35" font-size="13.3" font-family="Carlito, 'Liberation Sans', sans-serif" fill="#222" stroke="#222" stroke-width="0.15" text-anchor="end">15</text>
<line x1="444.10" y1="212.33" x2="446.10" y2="212.33" stroke="#888" stroke-width="1"/>
<line x1="537.00" y1="212.33" x2="539.00" y2="212.33" stroke="#888" stroke-width="1"/>
<text x="441.10" y="217.68" font-size="13.3" font-family="Carlito, 'Liberation Sans', sans-serif" fill="#222" stroke="#222" stroke-width="0.15" text-anchor="end">20</text>
<line x1="444.10" y1="190.67" x2="446.10" y2="190.67" stroke="#888" stroke-width="1"/>
<line x1="537.00" y1="190.67" x2="539.00" y2="190.67" stroke="#888" stroke-width="1"/>
<text x="441.10" y="196.02" font-size="13.3" font-family="Carlito, 'Liberation Sans', sans-serif" fill="#222" stroke="#222" stroke-width="0.15" text-anchor="end">25</text>
<line x1="444.10" y1="169.00" x2="446.10" y2="169.00" stroke="#888" stroke-width="1"/>
<line x1="537.00" y1="169.00" x2="539.00" y2="169.00" stroke="#888" stroke-width="1"/>
<text x="441.10" y="174.35" font-size="13.3" font-family="Carlito, 'Liberation Sans', sans-serif" fill="#222" stroke="#222" stroke-width="0.15" text-anchor="end">30</text>
<line x1="444.10" y1="299.00" x2="444.10" y2="297.00" stroke="#888" stroke-width="1"/>
<line x1="444.10" y1="169.00" x2="444.10" y2="171.00" stroke="#888" stroke-width="1"/>
<text x="445.70" y="312.50" font-size="13.3" font-family="Carlito, 'Liberation Sans', sans-serif" fill="#222" stroke="#222" stroke-width="0.15" text-anchor="middle">0</text>
<line x1="463.30" y1="299.00" x2="463.30" y2="297.00" stroke="#888" stroke-width="1"/>
<line x1="463.30" y1="169.00" x2="463.30" y2="171.00" stroke="#888" stroke-width="1"/>
<text x="465.00" y="312.50" font-size="13.3" font-family="Carlito, 'Liberation Sans', sans-serif" fill="#222" stroke="#222" stroke-width="0.15" text-anchor="middle">10</text>
<line x1="482.40" y1="299.00" x2="482.40" y2="297.00" stroke="#888" stroke-width="1"/>
<line x1="482.40" y1="169.00" x2="482.40" y2="171.00" stroke="#888" stroke-width="1"/>
<text x="483.60" y="312.50" font-size="13.3" font-family="Carlito, 'Liberation Sans', sans-serif" fill="#222" stroke="#222" stroke-width="0.15" text-anchor="middle">20</text>
<line x1="501.40" y1="299.00" x2="501.40" y2="297.00" stroke="#888" stroke-width="1"/>
<line x1="501.40" y1="169.00" x2="501.40" y2="171.00" stroke="#888" stroke-width="1"/>
<text x="502.40" y="312.50" font-size="13.3" font-family="Carlito, 'Liberation Sans', sans-serif" fill="#222" stroke="#222" stroke-width="0.15" text-anchor="middle">30</text>
<line x1="520.40" y1="299.00" x2="520.40" y2="297.00" stroke="#888" stroke-width="1"/>
<line x1="520.40" y1="169.00" x2="520.40" y2="171.00" stroke="#888" stroke-width="1"/>
<text x="521.00" y="312.50" font-size="13.3" font-family="Carlito, 'Liberation Sans', sans-serif" fill="#222" stroke="#222" stroke-width="0.15" text-anchor="middle">40</text>
<line x1="539.00" y1="299.00" x2="539.00" y2="297.00" stroke="#888" stroke-width="1"/>
<line x1="539.00" y1="169.00" x2="539.00" y2="171.00" stroke="#888" stroke-width="1"/>
<text x="539.80" y="312.50" font-size="13.3" font-family="Carlito, 'Liberation Sans', sans-serif" fill="#222" stroke="#222" stroke-width="0.15" text-anchor="middle">50</text>
<polyline points="456.00,181.05 457.52,187.75 459.04,193.47 460.56,198.22 462.08,201.99 463.60,204.78 465.52,207.35 467.44,210.05 469.35,212.63 471.27,215.10 473.19,217.46 475.11,219.70 477.03,221.84 478.94,223.88 480.86,225.82 482.78,227.65 484.70,229.40 486.62,231.05 488.53,232.61 490.45,234.09 492.37,235.49 494.29,236.80 496.21,238.04 498.12,239.21 500.04,240.30 501.96,241.33 503.88,242.29 505.79,243.20 507.71,244.04 509.63,244.83 511.55,245.56 513.47,246.24 515.38,246.88 517.30,247.47 519.22,248.03 521.14,248.54 523.06,249.02 524.97,249.47 526.89,249.89 528.81,250.28 530.73,250.66 532.65,251.01 534.56,251.34 536.48,251.66 538.40,251.97" fill="none" stroke="#000" stroke-width="1.9" stroke-linejoin="round"/>
<polyline points="456.00,283.10 538.60,285.90" fill="none" stroke="#000" stroke-width="1.9" stroke-linejoin="round" stroke-dasharray="6.9 6.8"/>
<text x="64.80" y="329.80" font-size="12.9" font-family="Carlito, 'Liberation Sans', sans-serif" fill="#222" stroke="#222" stroke-width="0.15" textLength="65.50" lengthAdjust="spacingAndGlyphs">Location, cm</text>
<text x="186.60" y="327.50" font-size="12.9" font-family="Carlito, 'Liberation Sans', sans-serif" fill="#222" stroke="#222" stroke-width="0.15" textLength="83.80" lengthAdjust="spacingAndGlyphs">Settling Velocity</text>
<text x="206.2" y="342.0" font-size="12.9" font-family="Carlito, 'Liberation Sans', sans-serif" fill="#222" stroke="#222" stroke-width="0.15"><tspan font-family="Caladea, 'Liberation Serif', serif" font-style="italic" font-size="12.2">V</tspan><tspan font-family="Caladea, 'Liberation Serif', serif" font-style="italic" font-size="10.5" dy="2.6" dx="-1.0">g</tspan><tspan dy="-2.6" dx="0.9">, µm/s</tspan></text>
<text x="307.30" y="326.90" font-size="12.9" font-family="Carlito, 'Liberation Sans', sans-serif" fill="#222" stroke="#222" stroke-width="0.15" textLength="104.40" lengthAdjust="spacingAndGlyphs">Diffusion Coefficient</text>
<text x="335.7" y="341.7" font-size="13.2" font-family="Carlito, 'Liberation Sans', sans-serif" fill="#222" stroke="#222" stroke-width="0.15"><tspan font-family="Caladea, 'Liberation Serif', serif" font-style="italic" font-size="13.8">D</tspan>, µm<tspan font-size="9.5" dy="-4">2</tspan><tspan dy="4">/s</tspan></text>
<text x="465.80" y="326.10" font-size="13.3" font-family="Carlito, 'Liberation Sans', sans-serif" fill="#222" stroke="#222" stroke-width="0.15" textLength="52.60" lengthAdjust="spacingAndGlyphs">Shear rate</text>
<text x="476.9" y="341.4" font-size="13.4" font-family="Carlito, 'Liberation Sans', sans-serif" fill="#222" stroke="#222" stroke-width="0.15" textLength="28.9" lengthAdjust="spacingAndGlyphs"><tspan font-family="Caladea, 'Liberation Serif', serif" font-style="italic" font-size="14">S</tspan>, 1/s</text>
<text transform="translate(13.7 244.8) rotate(-90)" text-anchor="middle" font-size="12.9" font-family="Carlito, 'Liberation Sans', sans-serif" fill="#222" stroke="#222" stroke-width="0.15" textLength="93.7" lengthAdjust="spacingAndGlyphs">Adherent bacteria</text>
<text transform="translate(29.0 245.0) rotate(-90)" text-anchor="middle" font-size="12.9" font-family="Carlito, 'Liberation Sans', sans-serif" fill="#222" stroke="#222" stroke-width="0.15">10<tspan font-size="9.8" dy="-3.3">3</tspan><tspan dy="3.3">/mm</tspan><tspan font-size="9.8" dy="-3.3">2</tspan></text>
</svg></body></html>
